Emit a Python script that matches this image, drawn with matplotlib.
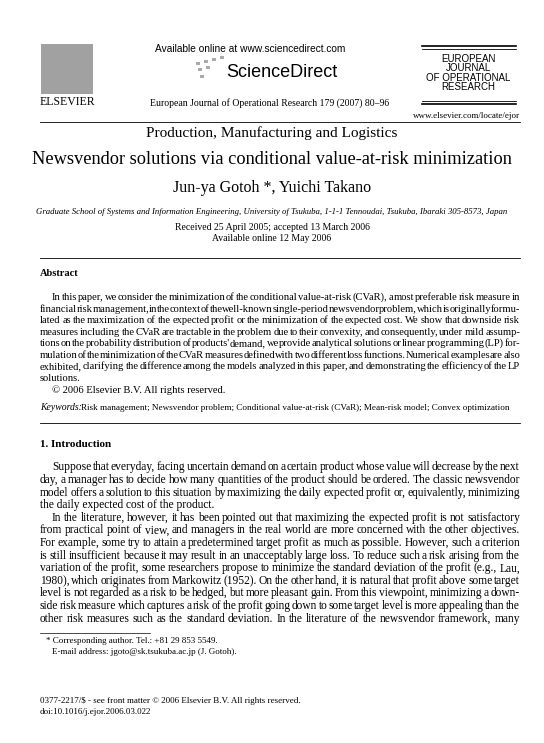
import matplotlib
matplotlib.use("Agg")
import matplotlib.pyplot as plt
from matplotlib.patches import Rectangle

W, H = 544, 743
fig = plt.figure(figsize=(W/100, H/100), dpi=100)
ax = fig.add_axes([0, 0, 1, 1])
ax.set_xlim(0, W); ax.set_ylim(H, 0); ax.axis("off")
SERIF = "Liberation Serif"
SANS = "Liberation Sans"

header_lines = ["Available online at www.sciencedirect.com",
                "European Journal of Operational Research 179 (2007) 80–96",
                "www.elsevier.com/locate/ejor"]
ejor_lines = ["EUROPEAN", "JOURNAL", "OF OPERATIONAL", "RESEARCH"]
section = "Production, Manufacturing and Logistics"
title = "Newsvendor solutions via conditional value-at-risk minimization"
authors = "Jun-ya Gotoh *, Yuichi Takano"
affil = ("Graduate School of Systems and Information Engineering, University of Tsukuba, "
         "1-1-1 Tennoudai, Tsukuba, Ibaraki 305-8573, Japan")
dates = ["Received 25 April 2005; accepted 13 March 2006", "Available online 12 May 2006"]
abstract_lines = [
 "In this paper, we consider the minimization of the conditional value-at-risk (CVaR), a most preferable risk measure in",
 "financial risk management, in the context of the well-known single-period newsvendor problem, which is originally formu-",
 "lated as the maximization of the expected profit or the minimization of the expected cost. We show that downside risk",
 "measures including the CVaR are tractable in the problem due to their convexity, and consequently, under mild assump-",
 "tions on the probability distribution of products' demand, we provide analytical solutions or linear programming (LP) for-",
 "mulation of the minimization of the CVaR measures defined with two different loss functions. Numerical examples are also",
 "exhibited, clarifying the difference among the models analyzed in this paper, and demonstrating the efficiency of the LP",
 "solutions.",
 "© 2006 Elsevier B.V. All rights reserved."]
keywords = "Risk management; Newsvendor problem; Conditional value-at-risk (CVaR); Mean-risk model; Convex optimization"
intro_lines = [
 "Suppose that everyday, facing uncertain demand on a certain product whose value will decrease by the next",
 "day, a manager has to decide how many quantities of the product should be ordered. The classic newsvendor",
 "model offers a solution to this situation by maximizing the daily expected profit or, equivalently, minimizing",
 "the daily expected cost of the product.",
 "In the literature, however, it has been pointed out that maximizing the expected profit is not satisfactory",
 "from practical point of view, and managers in the real world are more concerned with the other objectives.",
 "For example, some try to attain a predetermined target profit as much as possible. However, such a criterion",
 "is still insufficient because it may result in an unacceptably large loss. To reduce such a risk arising from the",
 "variation of the profit, some researchers propose to minimize the standard deviation of the profit (e.g., Lau,",
 "1980), which originates from Markowitz (1952). On the other hand, it is natural that profit above some target",
 "level is not regarded as a risk to be hedged, but more pleasant gain. From this viewpoint, minimizing a down-",
 "side risk measure which captures a risk of the profit going down to some target level is more appealing than the",
 "other risk measures such as the standard deviation. In the literature of the newsvendor framework, many"]
footnotes = ["* Corresponding author. Tel.: +81 29 853 5549.",
             "E-mail address: jgoto@sk.tsukuba.ac.jp (J. Gotoh)."]
bottom = ["0377-2217/$ - see front matter © 2006 Elsevier B.V. All rights reserved.",
          "doi:10.1016/j.ejor.2006.03.022"]

fig.canvas.draw()
R = fig.canvas.get_renderer()

def txt(x, y, s, size=8, ha="left", **kw):
    return ax.text(x, y + size * 0.42, s, fontsize=size, ha=ha, va="baseline",
                   family=kw.pop("family", SERIF), **kw)

def justify(x0, x1, y, s, size=8, color="black"):
    words = s.split(" ")
    objs = [txt(0, y, w, size, color=color) for w in words]
    widths = [o.get_window_extent(R).width for o in objs]
    gap = (x1 - x0 - sum(widths)) / max(len(words) - 1, 1)
    x = x0
    for o, w in zip(objs, widths):
        o.set_x(x); x += w + gap

# logos
ax.add_patch(Rectangle((41, 44), 52, 50, color="#555555", alpha=0.55, lw=0))
txt(67, 101, "ELSEVIER", 8.5, ha="center")
for (dx, dy) in [(196, 62), (204, 60), (212, 58), (220, 56), (198, 68), (206, 66), (200, 75)]:
    ax.add_patch(Rectangle((dx, dy), 4, 2.5, color="#aaaaaa", lw=0))
txt(226, 72, "ScienceDirect", 13, family=SANS)
txt(250, 49, header_lines[0], 7.3, ha="center", family=SANS)
txt(270, 103, header_lines[1], 7, ha="center")
txt(520, 115, header_lines[2], 6.5, ha="right")
for yy in (46, 49, 101, 104):
    ax.plot([422, 516], [yy, yy], color="black", lw=1.2 if yy in (46, 104) else 0.6)
for i, s in enumerate(ejor_lines):
    txt(468, 59 + i * 9.5, s, 7, ha="center", family=SANS)

ax.plot([40, 520], [122, 122], color="black", lw=0.6)
txt(272, 132, section, 11, ha="center")
txt(272, 158, title, 13.2, ha="center")
txt(272, 187, authors, 11.5, ha="center")
txt(272, 211, affil, 6.3, ha="center", style="italic")
txt(272, 227, dates[0], 7, ha="center")
txt(272, 238, dates[1], 7, ha="center")
ax.plot([40, 520], [258, 258], color="black", lw=0.6)
txt(40, 273, "Abstract", 7.5, weight="bold")
for i, s in enumerate(abstract_lines):
    y = 297 + i * 11.5 if i < 8 else 390
    x0 = 52 if i in (0, 8) else 40
    if i in (7, 8):
        txt(x0, y, s, 7.6)
    else:
        justify(x0, 520, y, s, 7.6)
txt(40, 407, "Keywords:", 7, style="italic")
txt(81, 407, keywords, 6.6)
ax.plot([40, 520], [423, 423], color="black", lw=0.6)
txt(40, 444, "1. Introduction", 8, weight="bold")
for i, s in enumerate(intro_lines):
    y = 467 + i * 12.6
    x0 = 52 if i in (0, 4) else 40
    if i == 3:
        txt(x0, y, s, 8.3)
    else:
        justify(x0, 520, y, s, 8.3)
ax.plot([40, 150], [633, 633], color="black", lw=0.5)
txt(46, 640, footnotes[0], 6.5)
txt(52, 651, footnotes[1], 6.5)
txt(40, 700, bottom[0], 6.5)
txt(40, 711, bottom[1], 6.5)

fig.savefig("out.png", dpi=100)
